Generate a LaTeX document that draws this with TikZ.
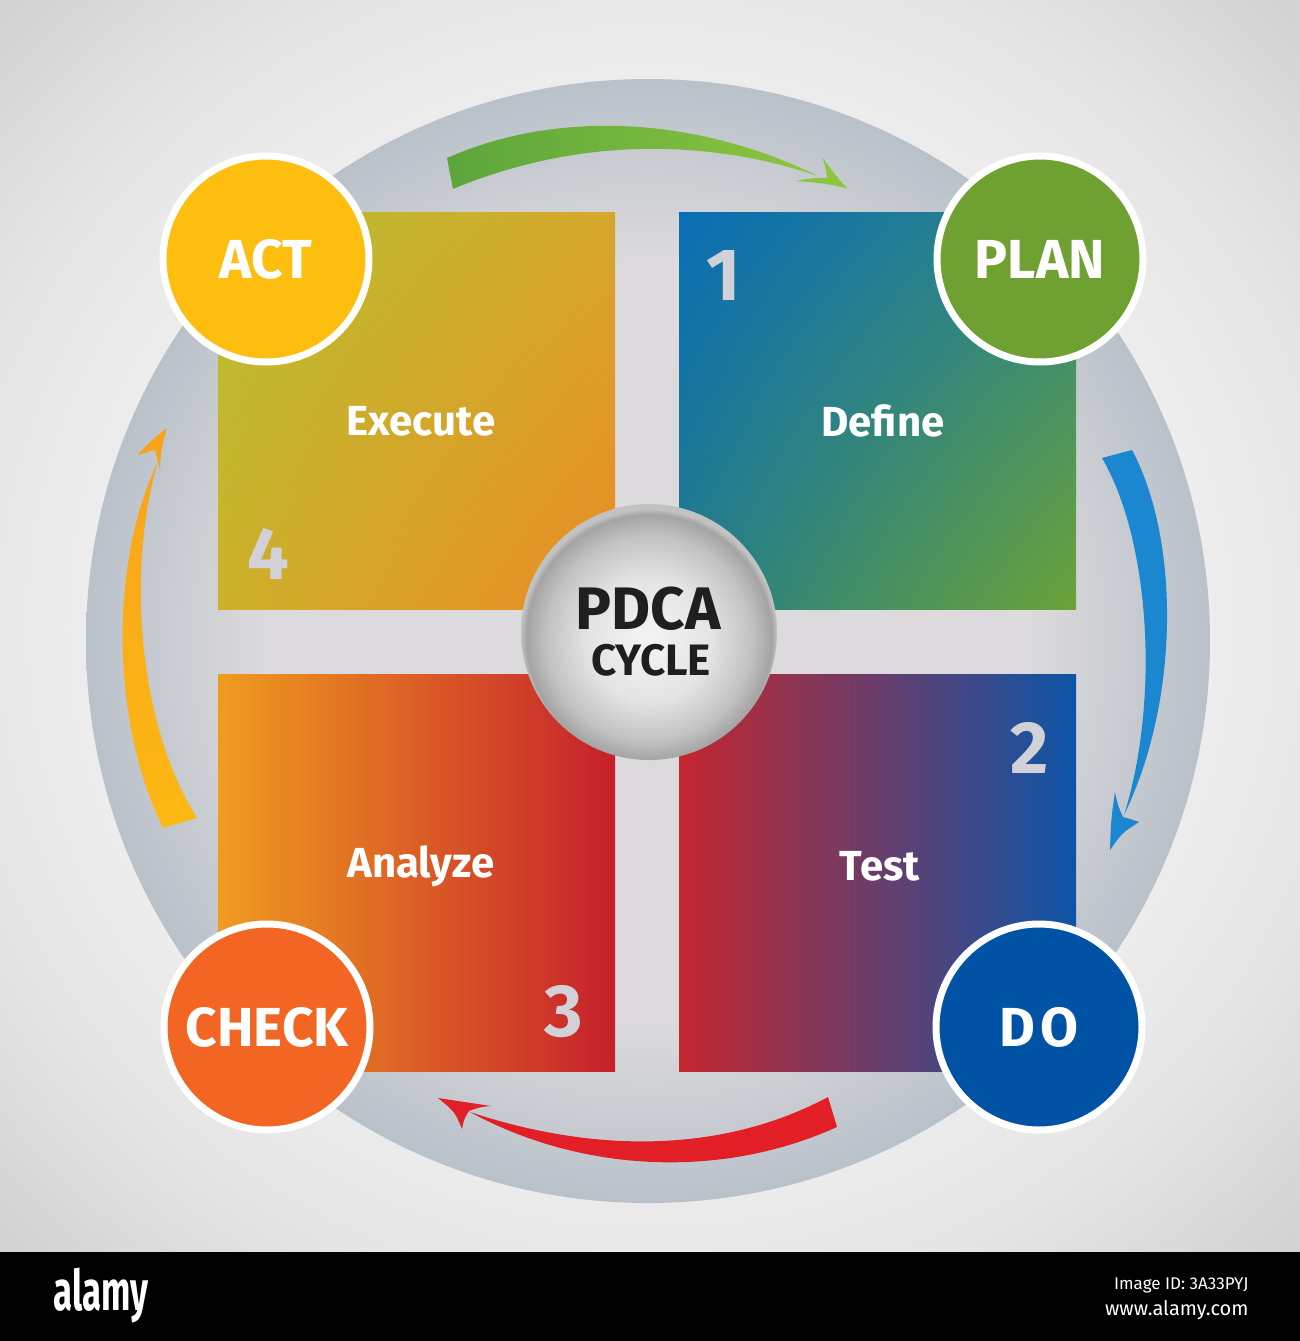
\documentclass[tikz,border=0pt]{standalone}
\usepackage{fontspec}
\setmainfont{Fira Sans}
\usetikzlibrary{shadings}
\definecolor{bgin}{HTML}{F1F1F1}
\definecolor{bgmid}{HTML}{E6E6E6}
\definecolor{bgout}{HTML}{D0D0D0}
\definecolor{rimin}{HTML}{DCDADC}
\definecolor{rimout}{HTML}{B9C1C9}
\definecolor{sphA}{HTML}{F4F4F4}
\definecolor{sphB}{HTML}{E4E4E4}
\definecolor{sphC}{HTML}{C2C2C2}
\definecolor{sphD}{HTML}{A4A4A4}
\definecolor{tlA}{HTML}{B5BF30}
\definecolor{tlB}{HTML}{D6A72C}
\definecolor{tlC}{HTML}{CDB12C}
\definecolor{tlD}{HTML}{EB8A22}
\definecolor{trA}{HTML}{0A6DB5}
\definecolor{trB}{HTML}{2F8683}
\definecolor{trC}{HTML}{237E88}
\definecolor{trD}{HTML}{6CA337}
\definecolor{blL}{HTML}{F09C20}
\definecolor{blM}{HTML}{DD6A26}
\definecolor{blR}{HTML}{C6202B}
\definecolor{brL}{HTML}{C4262F}
\definecolor{brM}{HTML}{5A4985}
\definecolor{brR}{HTML}{0D55A8}
\definecolor{actc}{HTML}{FDBE10}
\definecolor{planc}{HTML}{6FA032}
\definecolor{doc}{HTML}{0052A5}
\definecolor{checkc}{HTML}{F26522}
\definecolor{grnA}{HTML}{5CA53C}
\definecolor{grnB}{HTML}{8CC63F}
\definecolor{bluarr}{HTML}{1A87D0}
\definecolor{orgA}{HTML}{F8A41B}
\definecolor{orgB}{HTML}{FDB913}
\definecolor{redarr}{HTML}{E21F26}
\definecolor{numc}{HTML}{D2D1D8}
\pgfdeclareradialshading{bgshade}{\pgfpoint{0bp}{0bp}}{color(0bp)=(bgin); color(18bp)=(bgin); color(27bp)=(bgmid); color(36bp)=(bgout); color(50bp)=(bgout)}
\pgfdeclareradialshading{rimshade}{\pgfpoint{0bp}{0bp}}{color(0bp)=(rimin); color(17bp)=(rimin); color(25bp)=(rimout); color(50bp)=(rimout)}
\pgfdeclareradialshading{sphshade}{\pgfpoint{0bp}{-2bp}}{color(0bp)=(sphA); color(12bp)=(sphB); color(20bp)=(sphC); color(24bp)=(sphD); color(25bp)=(sphC); color(50bp)=(sphC)}
\begin{document}
\begin{tikzpicture}[x=1pt,y=-1pt,
  lab/.style={text=white, font=\fontsize{42}{46}\selectfont\bfseries},
  num/.style={text=numc, font=\fontsize{74}{78}\selectfont\bfseries},
  corner/.style={circle, minimum size=206pt, inner sep=0pt, draw=white, line width=7pt, text=white, font=\fontsize{55}{60}\selectfont\bfseries},
  centertext/.style={text=black!88, font=\fontsize{#1}{#1}\selectfont\bfseries}]
\useasboundingbox (0,0) rectangle (1300,1341);
% background
\shade[shading=bgshade] (0,0) rectangle (1300,1252);
\fill[black] (0,1252) rectangle (1300,1341);
% big circle
\shade[shading=rimshade] (648,641) circle (562);
% quadrants
\shade[upper left=tlA, upper right=tlB, lower left=tlC, lower right=tlD] (218,212) rectangle (615,609);
\shade[upper left=trA, upper right=trB, lower left=trC, lower right=trD] (679,212) rectangle (1076,609);
\shade[left color=blL, middle color=blM, right color=blR] (218,674) rectangle (615,1071);
\shade[left color=brL, middle color=brM, right color=brR] (679,674) rectangle (1076,1071);
% curved arrows
\shade[left color=grnA, right color=grnB] (447,158) .. controls (560,108) and (700,118) .. (818,176)
  .. controls (700,136) and (570,140) .. (453,189) -- cycle;
\fill[grnB] (847,188) .. controls (836,176) .. (822,157) .. controls (826,168) .. (827,178)
  .. controls (812,178) .. (795,181) .. controls (822,183) .. (847,188) -- cycle;
\fill[bluarr] (1132,450) .. controls (1180,540) and (1180,700) .. (1124,815)
  .. controls (1160,700) and (1150,540) .. (1102,458) -- cycle;
\fill[bluarr] (1110,850) .. controls (1111,820) .. (1115,792) .. controls (1118,806) .. (1123,817)
  .. controls (1130,819) .. (1139,822) .. controls (1122,833) .. (1110,850) -- cycle;
\shade[top color=orgA, bottom color=orgB] (163,828) .. controls (110,720) and (110,560) .. (158,462)
  .. controls (128,560) and (135,720) .. (197,818) -- cycle;
\fill[orgA] (167,428) .. controls (152,440) .. (137,455) .. controls (146,452) .. (155,450)
  .. controls (157,460) .. (160,470) .. controls (161,450) .. (167,428) -- cycle;
\fill[redarr] (837,1127) .. controls (720,1180) and (580,1172) .. (470,1112)
  .. controls (590,1152) and (720,1155) .. (828,1097) -- cycle;
\fill[redarr] (438,1098) .. controls (465,1102) .. (491,1106) .. controls (480,1107) .. (469,1111)
  .. controls (464,1119) .. (462,1129) .. controls (455,1112) .. (438,1098) -- cycle;
% labels in quadrants
\node[lab] (execute) at (421,421) {Execute};
\node[lab] (define) at (883,421) {Define};
\node[lab] (analyze) at (421,866) {Analyze};
\node[lab] (test) at (880,866) {Test};
% numbers
\node[num] (n1) at (724,275) {1};
\node[num] (n2) at (1030,748) {2};
\node[num] (n3) at (564,1012) {3};
\node[num] (n4) at (268,554) {4};
% centre sphere
\shade[shading=sphshade] (649,632) circle (128);
\node[centertext=60] (pdca) at (648,609) {PDCA};
\node[centertext=44] (cycle) at (651,660) {CYCLE};
% corner circles
\node[corner, fill=actc] (act) at (266,259) {ACT};
\node[corner, fill=planc] (plan) at (1040,259) {PLAN};
\node[corner, fill=doc] (do) at (1039,1027) {D\kern6pt O};
\node[corner, fill=checkc] (check) at (267,1027) {CHECK};
% bottom band
\node[text=white, font=\fontsize{56}{60}\selectfont\bfseries, xscale=0.62, transform shape] (alamy) at (101,1295) {alamy};
\node[text=white, font=\fontsize{17}{20}\selectfont, anchor=east] (imgid) at (1252,1285) {Image ID: 3A33PYJ};
\node[text=white, font=\fontsize{20}{22}\selectfont, anchor=east] (www) at (1252,1310) {www.alamy.com};
\end{tikzpicture}
\end{document}
